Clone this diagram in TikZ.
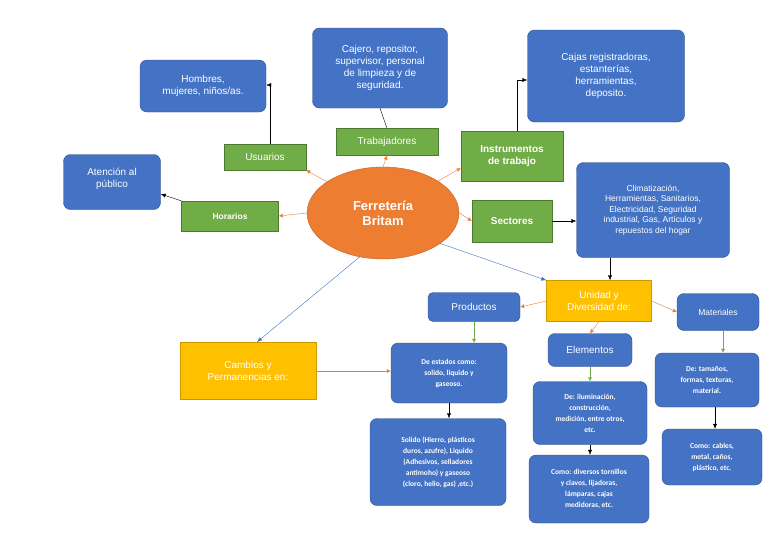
\documentclass[tikz,border=0pt]{standalone}
\usepackage{fontspec}
\setmainfont{Liberation Sans}
\newfontfamily\carlfont{Carlito}
\usetikzlibrary{shapes.geometric,arrows.meta}
\definecolor{bl}{HTML}{4472C4}
\definecolor{gr}{HTML}{70AD47}
\definecolor{orr}{HTML}{ED7D31}
\definecolor{ye}{HTML}{FFC000}
\tikzset{
 bx/.style={fill=bl,draw=bl!70!black,rounded corners=7pt,text=white,align=center,font=\fontsize{10}{12}\selectfont,inner sep=2pt},
 sbx/.style={bx,font=\carlfont\bfseries\fontsize{7.5}{11}\selectfont},
 gb/.style={fill=gr,draw=gr!70!black,text=white,align=center,font=\fontsize{10}{12}\selectfont},
 yb/.style={fill=ye,draw=ye!80!black,text=white,align=center,font=\fontsize{10}{12}\selectfont},
 oa/.style={draw=orr,-{Latex[length=4pt,width=4pt]}},
 ba/.style={draw=bl,-{Latex[length=5pt,width=4pt]}},
 ka/.style={draw=black,-{Latex[length=5pt,width=4pt]}},
 ga/.style={draw=gr,-{Latex[length=4pt,width=4pt]}},
}
\begin{document}
\begin{tikzpicture}[x=1pt,y=-1pt]
\useasboundingbox (0,0) rectangle (768,544);
\fill[white] (0,0) rectangle (768,544);
% boxes
\node[bx,minimum width=126,minimum height=52] (hom) at (203,86) {Hombres,\\mujeres, niños/as.};
\node[bx,minimum width=135,minimum height=80] (caj) at (380,68) {Cajero, repositor,\\supervisor, personal\\de limpieza y de\\seguridad.};
\node[bx,minimum width=157,minimum height=92] (cr) at (606,76) {Cajas registradoras,\\estanterías,\\herramientas,\\deposito.};
\node[bx,minimum width=97,minimum height=55] (ate) at (112,182) {Atención al\\público\\[-4pt]};
\node[gb,minimum width=82,minimum height=26] (usu) at (265,157) {Usuarios};
\node[gb,minimum width=102,minimum height=27] (tra) at (387,142) {Trabajadores};
\node[gb,minimum width=102,minimum height=50,font=\bfseries\fontsize{10}{12}\selectfont] (ins) at (512,156) {Instrumentos\\de trabajo};
\node[gb,minimum width=97,minimum height=30,font=\bfseries\fontsize{8.5}{10}\selectfont] (hor) at (230,216) {Horarios};
\node[ellipse,fill=orr,draw=orr!80!black,minimum width=152,minimum height=92,text=white,align=center,font=\bfseries\fontsize{13}{15}\selectfont] (fer) at (383,213) {Ferretería\\Britam};
\node[gb,minimum width=80,minimum height=42,font=\bfseries\fontsize{10}{12}\selectfont] (sec) at (512,221) {Sectores};
\node[bx,minimum width=153,minimum height=95,font=\fontsize{8.5}{10.5}\selectfont] (cli) at (653,210) {Climatización,\\Herramientas, Sanitarios,\\Electricidad, Seguridad\\industrial, Gas, Artículos y\\repuestos del hogar};
\node[yb,minimum width=105,minimum height=41] (uni) at (599,301) {Unidad y\\Diversidad de:};
\node[bx,minimum width=92,minimum height=29,rounded corners=5pt] (pro) at (474,307) {Productos};
\node[bx,minimum width=82,minimum height=37,font=\fontsize{8.5}{10}\selectfont] (mat) at (718,312) {Materiales};
\node[bx,minimum width=84,minimum height=33] (ele) at (590,350) {Elementos};
\node[yb,minimum width=136,minimum height=57] (cam) at (248,371) {Cambios y\\Permanencias en:};
\node[sbx,minimum width=116,minimum height=60] (est) at (449,373) {De estados como:\\solido, liquido y\\gaseoso.};
\node[sbx,minimum width=136,minimum height=87] (sol) at (438,462) {Solido (Hierro, plásticos\\duros, azufre), Liquido\\(Adhesivos, selladores\\antimoho) y gaseoso\\(cloro, helio, gas) ,etc.)};
\node[sbx,minimum width=114,minimum height=63] (ilu) at (590,413) {De: iluminación,\\construcción,\\medición, entre otros,\\etc.};
\node[sbx,minimum width=120,minimum height=68] (com) at (589,489) {Como: diversos tornillos\\y clavos, lijadoras,\\lámparas, cajas\\medidoras,  etc.};
\node[sbx,minimum width=104,minimum height=54] (tam) at (707,380) {De: tamaños,\\formas, texturas,\\material.};
\node[sbx,minimum width=100,minimum height=56] (cab) at (712,457) {Como: cables,\\metal, caños,\\plástico, etc.};
% connectors
\draw[ka] (usu.north -| 270,0) -- (270,85) -- (hom.east |- 0,85);
\draw (tra.north) -- (caj.south);
\draw[ka] (ins.north -| 517,0) -- (517,80) -- (cr.west |- 0,80);
\draw[ka] (hor.north west) -- (ate.east |- 0,194);
\draw[oa] (fer) -- (usu.south east);
\draw[oa] (fer.north) -- (tra.south);
\draw[oa] (fer) -- (ins.west |- 0,168);
\draw[oa] (fer.west) -- (hor.east);
\draw[oa] (fer.east) -- (sec.west);
\draw[ka] (sec.east) -- (cli.west |- sec.east);
\draw[ka] (cli.south -| 610,0) -- (uni.north -| 610,0);
\draw[ba] (fer.-28) -- (uni.north west);
\draw[ba] (fer.-118) -- (257,342);
\draw[oa] (uni.west) -- (pro.east);
\draw[oa] (uni.east) -- (mat.west);
\draw[oa] (uni.south) -- (ele.north);
\draw[ga] (pro.south) -- (est.north -| pro.south);
\draw[oa] (cam.east) -- (est.west |- cam.east);
\draw[ka] (est.south) -- (sol.north -| est.south);
\draw[ga] (ele.south) -- (ilu.north);
\draw[ka] (ilu.south) -- (com.north -| ilu.south);
\draw[ga] (mat.south -| 723,0) -- (tam.north -| 723,0);
\draw[ka] (tam.south -| 715,0) -- (cab.north -| 715,0);
\end{tikzpicture}
\end{document}
